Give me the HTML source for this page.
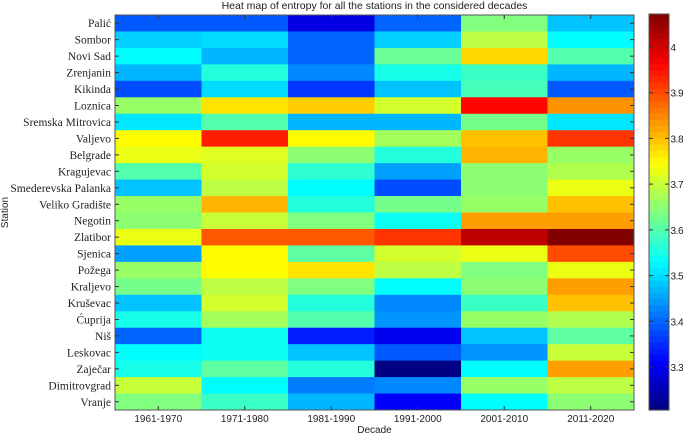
<!DOCTYPE html>
<html><head><meta charset="utf-8"><style>
html,body{margin:0;padding:0;background:#fff;}
svg{display:block;}
text{font-family:"Liberation Sans",sans-serif;fill:#222;}
</style></head><body>
<svg id="chart" width="685" height="435"></svg>
<script>
const stations=["Palić","Sombor","Novi Sad","Zrenjanin","Kikinda","Loznica","Sremska Mitrovica","Valjevo","Belgrade","Kragujevac","Smederevska Palanka","Veliko Gradište","Negotin","Zlatibor","Sjenica","Požega","Kraljevo","Kruševac","Ćuprija","Niš","Leskovac","Zaječar","Dimitrovgrad","Vranje"];
const decades=["1961-1970","1971-1980","1981-1990","1991-2000","2001-2010","2011-2020"];
const values=[
[3.39,3.39,3.29,3.40,3.64,3.48],
[3.49,3.50,3.40,3.49,3.69,3.53],
[3.53,3.47,3.40,3.62,3.78,3.60],
[3.47,3.56,3.43,3.55,3.58,3.47],
[3.38,3.50,3.36,3.48,3.59,3.39],
[3.66,3.77,3.79,3.71,3.96,3.84],
[3.51,3.60,3.47,3.47,3.63,3.51],
[3.75,3.94,3.75,3.67,3.80,3.92],
[3.73,3.72,3.65,3.56,3.81,3.66],
[3.60,3.71,3.57,3.45,3.65,3.68],
[3.48,3.69,3.53,3.38,3.65,3.73],
[3.66,3.81,3.56,3.63,3.66,3.80],
[3.65,3.70,3.64,3.54,3.83,3.83],
[3.73,3.89,3.89,3.92,4.02,4.07],
[3.45,3.75,3.61,3.71,3.73,3.90],
[3.66,3.75,3.77,3.69,3.64,3.73],
[3.63,3.69,3.64,3.53,3.65,3.83],
[3.48,3.71,3.56,3.43,3.58,3.80],
[3.55,3.67,3.60,3.44,3.66,3.68],
[3.40,3.54,3.34,3.30,3.48,3.61],
[3.53,3.54,3.48,3.39,3.44,3.70],
[3.55,3.61,3.56,3.21,3.53,3.83],
[3.70,3.53,3.42,3.43,3.66,3.69],
[3.64,3.58,3.47,3.31,3.53,3.65]];
const cbTicks=[3.3,3.4,3.5,3.6,3.7,3.8,3.9,4];
const vmin=3.206, vmax=4.072;

const NS="http://www.w3.org/2000/svg";
const svg=document.getElementById('chart');
function mk(t,a,p){const e=document.createElementNS(NS,t);for(const k in a)e.setAttribute(k,a[k]);(p||svg).appendChild(e);return e;}
function jet(t){t=Math.max(0,Math.min(1,t));
 const f=x=>Math.max(0,Math.min(1,x));
 const r=f(Math.min(4*t-1.5,-4*t+4.5)),g=f(Math.min(4*t-0.5,-4*t+3.5)),b=f(Math.min(4*t+0.5,-4*t+2.5));
 return `rgb(${Math.round(r*255)},${Math.round(g*255)},${Math.round(b*255)})`;}
const L=115,R=634,T=15,B=410;
const cw=(R-L)/decades.length, rh=(B-T)/stations.length;
const xS=i=>L+i*cw, yS=j=>T+j*rh;
const cT=14,cB=410,cL=649,cR=669;
const cy=v=>cB-(v-vmin)/(vmax-vmin)*(cB-cT);

const t=mk('text',{x:(L+R)/2,y:9,'text-anchor':'middle','font-size':'10.5'});t.textContent="Heat map of entropy for all the stations in the considered decades";



const cells=mk('g',{});


values.forEach((row,j)=>row.forEach((v,i)=>{
 const r=mk('rect',{x:xS(i),y:yS(j),width:cw+0.5,height:rh+0.5,fill:jet((v-vmin)/(vmax-vmin))},cells);
 
 
}));
const fr=mk('rect',{x:L,y:T,width:R-L,height:B-T,fill:'none',stroke:'#555','stroke-width':1});



stations.forEach((s,j)=>{
 const y=yS(j)+rh/2;
 mk('line',{x1:L,x2:L+4,y1:y,y2:y,stroke:'#333'});
 mk('line',{x1:R,x2:R-4,y1:y,y2:y,stroke:'#333'});
 const tx=mk('text',{x:L-4,y:y+4,'text-anchor':'end','font-size':'11.5',style:'font-family:"Liberation Serif",serif'});
 tx.textContent=s;
 
 
});
decades.forEach((d,i)=>{
 const x=xS(i)+cw/2;
 mk('line',{x1:x,x2:x,y1:B,y2:B-4,stroke:'#333'});
 mk('line',{x1:x,x2:x,y1:T,y2:T+4,stroke:'#333'});
 const tx=mk('text',{x:x,y:B+12,'text-anchor':'middle','font-size':'10'});
 tx.textContent=d;
 
 
});
const xl=mk('text',{x:(L+R)/2,y:B+23,'text-anchor':'middle','font-size':'10'});xl.textContent="Decade";


const yl=mk('text',{x:0,y:0,'text-anchor':'middle','font-size':'10',transform:`translate(8,${(T+B)/2}) rotate(-90)`});yl.textContent="Station";



const cb=mk('g',{});


for(let k=0;k<64;k++){
 const h=(cB-cT)/64;
 mk('rect',{x:cL,y:cB-(k+1)*h,width:cR-cL,height:h+0.6,fill:jet((k+0.5)/64)},cb);
}
mk('rect',{x:cL,y:cT,width:cR-cL,height:cB-cT,fill:'none',stroke:'#555'},cb);
cbTicks.forEach(v=>{
 const y=cy(v);
 mk('line',{x1:cR,x2:cR-4,y1:y,y2:y,stroke:'#333'},cb);
 mk('line',{x1:cL,x2:cL+4,y1:y,y2:y,stroke:'#333'},cb);
 const tx=mk('text',{x:cR+1.5,y:y+4,'font-size':'10','letter-spacing':'-0.4'},cb);
 tx.textContent=String(v);
 
 
});
</script>
</body></html>
